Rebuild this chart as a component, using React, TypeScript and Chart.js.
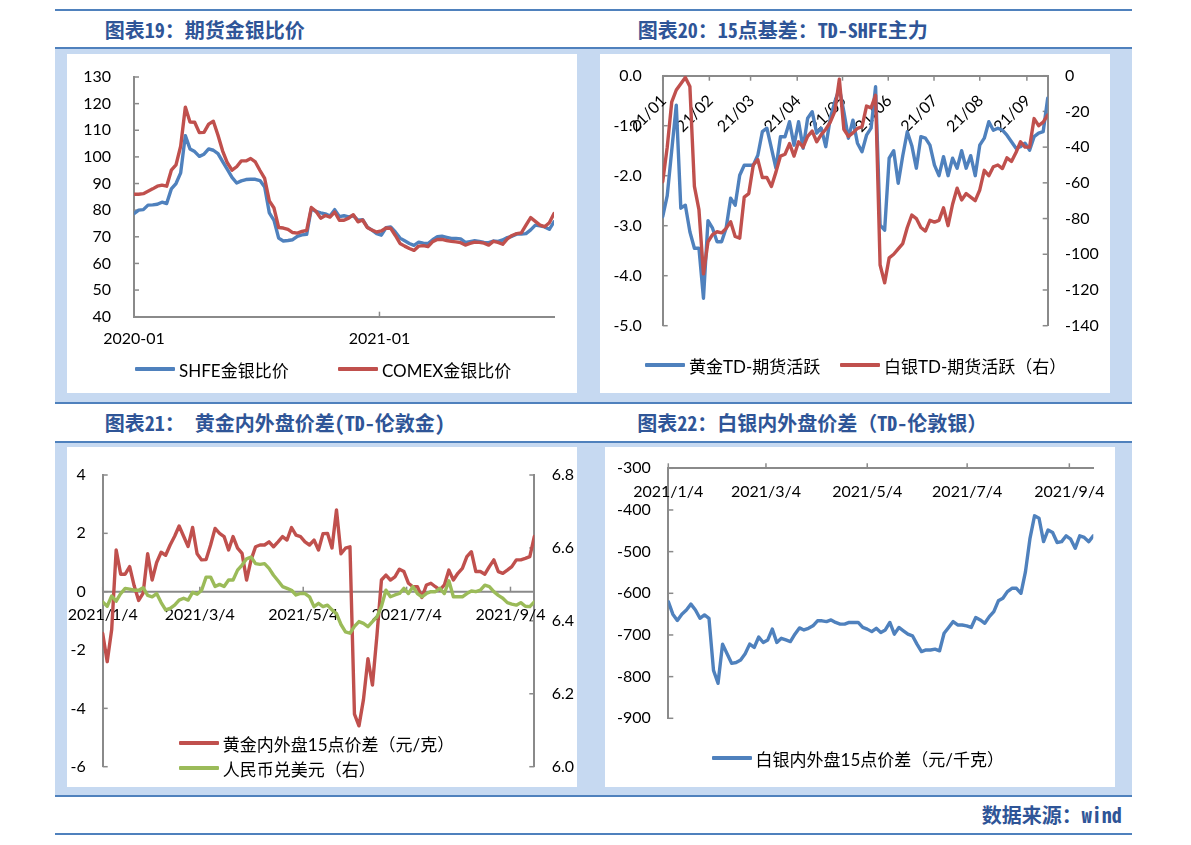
import React, { useEffect, useRef } from 'react';
import { Chart, registerables } from 'chart.js';

Chart.register(...registerables);

const BLUE = '#4f81bd';
const RED = '#c0504d';
const GREEN = '#9bbb59';
const AXIS = '#8a8a8a';
const BAND = '#c6d9f1';
const RULE = '#4f81bd';
const TITLE = '#2f5597';
const FAMILY = 'Lato, "Noto Sans CJK SC", sans-serif';
const TICK_FONT = { family: FAMILY, size: 16 };
const TICK_LEN = 5;

// ---------- 图表19：期货金银比价 (weekly) ----------
const ratioTickPos = [0, 52.6];
const ratioTickLabels = ['2020-01', '2021-01'];
const shfeRatio = [
  78.7, 80.0, 80.2, 81.9, 82.0, 82.2, 83.0, 82.5, 88.0, 90.0,
  94.0, 108.0, 103.0, 102.0, 100.2, 101.0, 103.0, 102.5, 101.2, 98.2,
  95.3, 92.3, 90.2, 91.0, 91.5, 91.6, 91.6, 91.1, 88.7, 79.0,
  76.2, 69.5, 68.4, 68.6, 68.9, 70.2, 70.7, 70.9, 80.6, 79.5,
  79.0, 78.6, 77.8, 80.2, 77.6, 77.9, 77.5, 77.9, 76.2, 76.4,
  73.6, 72.5, 71.2, 70.6, 73.4, 73.7, 71.8, 69.5, 68.5, 67.5,
  66.8, 68.0, 67.6, 67.5, 68.9, 70.0, 70.2, 69.8, 69.4, 69.4,
  69.2, 67.9, 68.2, 68.5, 68.3, 67.9, 67.8, 68.4, 68.3, 68.8,
  69.7, 70.2, 71.0, 71.0, 71.2, 72.6, 74.4, 74.1, 73.7, 72.8, 75.6,
];
const comexRatio = [
  86.0, 86.0, 86.2, 87.1, 88.0, 89.0, 89.4, 89.0, 95.0, 97.0,
  104.0, 118.7, 113.1, 113.0, 109.1, 109.2, 112.3, 113.4, 108.1, 102.2,
  97.8, 95.0, 96.3, 98.5, 98.5, 99.4, 98.1, 94.9, 91.9, 83.5,
  80.8, 73.5, 73.3, 72.8, 71.6, 71.4, 72.0, 72.4, 81.0, 79.6,
  77.0, 78.0, 77.4, 79.3, 76.2, 76.2, 77.0, 78.3, 75.6, 76.3,
  73.5, 72.5, 71.8, 72.2, 73.3, 73.2, 70.5, 67.5, 66.5, 65.6,
  64.9, 66.5, 66.7, 66.3, 68.2, 69.0, 69.0, 68.6, 68.3, 68.1,
  67.8, 66.9, 67.5, 68.0, 67.9, 67.6, 66.9, 68.3, 67.9, 67.2,
  69.2, 70.5, 71.2, 71.5, 74.4, 77.2, 75.8, 74.4, 73.8, 75.3, 78.7,
];

// ---------- 图表20：15点基差 (every 2 trading days) ----------
const basisTickPos = [0, 10.3, 19.4, 29.7, 39.7, 49.8, 59.9, 70.0, 80.4];
const basisTickLabels = ['21/01', '21/02', '21/03', '21/04', '21/05', '21/06', '21/07', '21/08', '21/09'];
const goldBasis = [
  -2.82, -2.40, -1.49, -0.59, -2.65, -2.59, -3.12, -3.45, -3.45, -4.45,
  -2.90, -3.05, -3.32, -3.32, -3.05, -2.45, -2.59, -1.99, -1.79, -1.79,
  -1.79, -1.59, -1.12, -1.05, -1.45, -1.85, -1.22, -1.22, -0.92, -1.39,
  -0.92, -1.45, -0.85, -0.72, -1.15, -1.05, -1.42, -0.85, -0.52, -0.25,
  -0.72, -1.25, -0.89, -1.35, -1.52, -1.19, -1.05, -0.22, -2.99, -3.09,
  -1.65, -1.50, -2.15, -1.60, -1.12, -1.40, -1.85, -1.22, -1.25, -1.39,
  -1.79, -2.00, -1.62, -2.00, -1.65, -1.85, -1.50, -1.85, -1.60, -2.00,
  -1.39, -1.25, -0.92, -1.09, -1.05, -1.09, -1.19, -1.32, -1.45, -1.42,
  -1.35, -1.49, -1.22, -1.15, -1.12, -0.45,
];
const silverBasis = [
  -59.4, -40, -14.6, -8, -4.5, -1, -6, -62, -75, -111,
  -93, -89, -87.4, -88, -85.5, -81.8, -90, -91, -68, -66,
  -50, -47, -57, -57, -62, -54, -45, -44, -38, -45,
  -37, -40, -34, -31, -37, -33, -30, -26, -20, -2,
  -30, -34, -32, -29.5, -28.6, -17, -18, -11, -106, -116,
  -102, -100, -97, -94, -85, -78, -80, -85, -87, -81,
  -82, -81, -74, -84, -72, -63, -69.6, -66, -68, -70,
  -64, -53, -56, -51, -50, -52, -46, -48, -43, -37,
  -40, -40, -24, -28, -26, -22,
];

// ---------- 图表21：黄金内外盘价差 ----------
const spreadTickPos = [0, 21.6, 44.6, 67.6, 90.7];
const spreadTickLabels = ['2021/1/4', '2021/3/4', '2021/5/4', '2021/7/4', '2021/9/4'];
const goldSpread = [
  -1.43, -2.4, -1.3, 1.43, 0.6, 0.6, 0.86, 0.2, -0.3, -0.05,
  1.3, 0.4, 1.0, 1.35, 1.25, 1.6, 1.9, 2.25, 1.9, 1.55,
  2.2, 1.3, 1.09, 1.1, 1.6, 2.17, 2.0, 1.89, 1.43, 1.89,
  1.49, 1.31, 0.4, 1.09, 1.54, 1.6, 1.6, 1.71, 1.54, 1.71,
  1.89, 1.77, 2.2, 1.94, 1.89, 1.71, 1.6, 1.77, 1.43, 1.99,
  2.0, 1.5, 2.8, 1.3, 1.49, 1.54, -4.2, -4.6, -3.7, -2.3,
  -3.2, -1.5, 0.4, 0.57, 0.4, 0.51, 0.77, 0.69, 0.29, 0.17,
  0.17, -0.2, 0.23, 0.29, 0.17, 0.06, 0.23, 0.74, 0.4, 0.63,
  0.8, 1.2, 1.37, 0.69, 0.69, 0.6, 0.86, 1.09, 0.69, 0.63,
  0.74, 0.86, 1.09, 1.09, 1.14, 1.2, 1.89,
];
const usdCny = [
  6.452, 6.44, 6.468, 6.454, 6.475, 6.489, 6.487, 6.484, 6.484, 6.491,
  6.47, 6.466, 6.475, 6.45, 6.43, 6.434, 6.443, 6.457, 6.462, 6.457,
  6.478, 6.473, 6.484, 6.52, 6.52, 6.494, 6.5, 6.494, 6.512, 6.512,
  6.539, 6.553, 6.57, 6.575, 6.557, 6.555, 6.557, 6.544, 6.525, 6.51,
  6.494, 6.489, 6.484, 6.471, 6.475, 6.475, 6.466, 6.439, 6.448, 6.439,
  6.443, 6.43, 6.42, 6.39, 6.37, 6.366, 6.385, 6.398, 6.393, 6.384,
  6.398, 6.411, 6.44, 6.484, 6.466, 6.471, 6.475, 6.489, 6.475, 6.494,
  6.475, 6.466, 6.475, 6.48, 6.48, 6.489, 6.475, 6.51, 6.466, 6.466,
  6.466, 6.475, 6.482, 6.48, 6.484, 6.498, 6.494, 6.48, 6.47, 6.462,
  6.45, 6.446, 6.443, 6.45, 6.44, 6.439, 6.452,
];

// ---------- 图表22：白银内外盘价差 ----------
const agTickPos = [0, 21.6, 44.0, 66.1, 88.7];
const agTickLabels = ['2021/1/4', '2021/3/4', '2021/5/4', '2021/7/4', '2021/9/4'];
const silverSpread = [
  -620, -650, -665, -650, -640, -626, -640, -660, -652, -660,
  -785, -816, -722, -745, -768, -766, -760, -745, -722, -730,
  -705, -718, -712, -686, -718, -708, -712, -716, -698, -683,
  -688, -684, -678, -666, -666, -668, -664, -670, -674, -674,
  -670, -670, -670, -682, -686, -692, -684, -694, -688, -670,
  -698, -682, -690, -698, -702, -722, -740, -736, -736, -734,
  -738, -696, -682, -668, -676, -676, -678, -682, -658, -664,
  -672, -656, -644, -618, -612, -596, -588, -588, -600, -548,
  -468, -414, -420, -476, -448, -454, -478, -476, -462, -470,
  -492, -462, -466, -476, -462,
];

const pts = (arr: number[]) => arr.map((y, i) => ({ x: i, y }));

const lineSet = (label: string, data: number[], color: string, order: number, yAxisID = 'y') => ({
  label,
  data: pts(data),
  borderColor: color,
  backgroundColor: color,
  borderWidth: 3.4,
  pointRadius: 0,
  tension: 0,
  fill: false,
  order,
  yAxisID,
  borderJoinStyle: 'round',
  borderCapStyle: 'round',
});

const zeroPad = (s: any) => {
  s.paddingTop = 0;
  s.paddingBottom = 0;
  s.paddingLeft = 0;
  s.paddingRight = 0;
};

const yScale = (o: any) => ({
  type: 'linear',
  position: o.position,
  min: o.min,
  max: o.max,
  grid: { display: false, drawTicks: false },
  border: { display: true, color: AXIS, width: 2 },
  ticks: {
    stepSize: o.step,
    padding: o.padding,
    color: '#000',
    font: TICK_FONT,
    autoSkip: false,
    callback: o.cb,
  },
  afterFit: (s: any) => { s.width = o.width; zeroPad(s); },
});

type Deco = {
  yMarks: { id: string; side: 'left' | 'right' }[];
  xAt: 'top' | 'bottom' | 'zero';
  zeroLine?: boolean;
  xPos: number[];
  xLabels: string[];
  xDir: number;
  drawLabels: boolean;
  labelDy?: number;
  labelDx?: number;
  rotate?: number;
};

function makeDeco(d: Deco) {
  return {
    id: 'axisDeco',
    beforeDatasetsDraw(chart: any) {
      const ctx = chart.ctx;
      const a = chart.chartArea;
      ctx.save();
      ctx.strokeStyle = AXIS;
      ctx.lineWidth = 1.5;
      for (const m of d.yMarks) {
        const s = chart.scales[m.id];
        for (const t of s.ticks) {
          const py = s.getPixelForValue(t.value);
          const x0 = m.side === 'left' ? a.left : a.right;
          const x1 = m.side === 'left' ? a.left + TICK_LEN : a.right - TICK_LEN;
          ctx.beginPath();
          ctx.moveTo(x0, py);
          ctx.lineTo(x1, py);
          ctx.stroke();
        }
      }
      const xs = chart.scales.x;
      const ay = d.xAt === 'top' ? a.top : d.xAt === 'bottom' ? a.bottom : chart.scales.y.getPixelForValue(0);
      if (d.zeroLine) {
        ctx.lineWidth = 2;
        ctx.beginPath();
        ctx.moveTo(a.left, ay);
        ctx.lineTo(a.right, ay);
        ctx.stroke();
        ctx.lineWidth = 1.5;
      }
      d.xPos.forEach((v, i) => {
        const px = xs.getPixelForValue(v);
        ctx.beginPath();
        ctx.moveTo(px, ay);
        ctx.lineTo(px, ay + d.xDir * TICK_LEN);
        ctx.stroke();
        if (d.drawLabels) {
          ctx.save();
          ctx.fillStyle = '#000';
          ctx.font = `16px ${FAMILY}`;
          ctx.translate(px + (d.labelDx || 0), ay + (d.labelDy || 0));
          ctx.textBaseline = 'middle';
          if (d.rotate) {
            ctx.rotate(d.rotate);
            ctx.textAlign = 'right';
          } else {
            ctx.textAlign = 'center';
          }
          ctx.fillText(d.xLabels[i], 0, 0);
          ctx.restore();
        }
      });
      ctx.restore();
    },
  };
}

const baseOptions = (padding: any) => ({
  responsive: false,
  maintainAspectRatio: false,
  animation: false,
  events: [],
  layout: { padding },
  plugins: { legend: { display: false }, tooltip: { enabled: false } },
});

function ratioConfig() {
  return {
    type: 'line',
    data: {
      datasets: [
        lineSet('SHFE金银比价', shfeRatio, BLUE, 1),
        lineSet('COMEX金银比价', comexRatio, RED, 0),
      ],
    },
    options: {
      ...baseOptions({ left: 0, right: 23, top: 23, bottom: 0 }),
      scales: {
        x: {
          type: 'linear',
          min: 0,
          max: shfeRatio.length - 1,
          position: 'bottom',
          afterBuildTicks: (s: any) => { s.ticks = ratioTickPos.map((v) => ({ value: v })); },
          ticks: {
            autoSkip: false,
            maxRotation: 0,
            minRotation: 0,
            padding: 13,
            color: '#000',
            font: TICK_FONT,
            callback: (_v: any, i: number) => ratioTickLabels[i],
          },
          grid: { display: false, drawTicks: false },
          border: { display: true, color: AXIS, width: 2 },
          afterFit: (s: any) => { s.height = 76.3; zeroPad(s); },
        },
        y: yScale({ position: 'left', min: 40, max: 130, step: 10, padding: 23, width: 67 }),
      },
    },
    plugins: [makeDeco({ yMarks: [{ id: 'y', side: 'left' }], xAt: 'bottom', xPos: ratioTickPos, xLabels: ratioTickLabels, xDir: -1, drawLabels: false })],
  };
}

function basisConfig() {
  return {
    type: 'line',
    data: {
      datasets: [
        lineSet('黄金TD-期货活跃', goldBasis, BLUE, 1, 'y'),
        lineSet('白银TD-期货活跃（右）', silverBasis, RED, 0, 'y2'),
      ],
    },
    options: {
      ...baseOptions({ left: 0, right: 0, top: 21.7, bottom: 67.3 }),
      scales: {
        x: {
          type: 'linear',
          min: 0,
          max: goldBasis.length - 1,
          position: 'top',
          ticks: { display: false },
          grid: { display: false, drawTicks: false },
          border: { display: true, color: AXIS, width: 2 },
          afterFit: (s: any) => { s.height = 0; zeroPad(s); },
        },
        y: yScale({ position: 'left', min: -5, max: 0, step: 1, padding: 21, width: 62.7, cb: (v: number) => v.toFixed(1) }),
        y2: yScale({ position: 'right', min: -140, max: 0, step: 20, padding: 17.3, width: 62.3 }),
      },
    },
    plugins: [makeDeco({
      yMarks: [{ id: 'y', side: 'left' }, { id: 'y2', side: 'right' }],
      xAt: 'top', xPos: basisTickPos, xLabels: basisTickLabels, xDir: 1,
      drawLabels: true, labelDx: 1, labelDy: 22.3, rotate: -Math.PI / 4,
    })],
  };
}

function spreadConfig() {
  return {
    type: 'line',
    data: {
      datasets: [
        lineSet('黄金内外盘15点价差（元/克）', goldSpread, RED, 1, 'y'),
        lineSet('人民币兑美元（右）', usdCny, GREEN, 0, 'y2'),
      ],
    },
    options: {
      ...baseOptions({ left: 0, right: 0, top: 28, bottom: 20.3 }),
      scales: {
        x: { type: 'linear', min: 0, max: goldSpread.length - 1, display: false, afterFit: zeroPad },
        y: yScale({ position: 'left', min: -6, max: 4, step: 2, padding: 16.9, width: 35.7 }),
        y2: yScale({ position: 'right', min: 6.0, max: 6.8, step: 0.2, padding: 17.4, width: 42.7, cb: (v: number) => v.toFixed(1) }),
      },
    },
    plugins: [makeDeco({
      yMarks: [{ id: 'y', side: 'left' }, { id: 'y2', side: 'right' }],
      xAt: 'zero', zeroLine: true, xPos: spreadTickPos, xLabels: spreadTickLabels, xDir: -1,
      drawLabels: true, labelDy: 23.3,
    })],
  };
}

function agConfig() {
  return {
    type: 'line',
    data: {
      datasets: [lineSet('白银内外盘15点价差（元/千克）', silverSpread, BLUE, 0, 'y')],
    },
    options: {
      ...baseOptions({ left: 0, right: 21.7, top: 21.3, bottom: 68.7 }),
      scales: {
        x: {
          type: 'linear',
          min: 0,
          max: silverSpread.length - 1,
          position: 'top',
          ticks: { display: false },
          grid: { display: false, drawTicks: false },
          border: { display: true, color: AXIS, width: 2 },
          afterFit: (s: any) => { s.height = 0; zeroPad(s); },
        },
        y: yScale({ position: 'left', min: -900, max: -300, step: 100, padding: 17.5, width: 63.3 }),
      },
    },
    plugins: [makeDeco({
      yMarks: [{ id: 'y', side: 'left' }],
      xAt: 'top', xPos: agTickPos, xLabels: agTickLabels, xDir: -1,
      drawLabels: true, labelDy: 23.4,
    })],
  };
}

function ChartBox({ left, top, width, height, make }: { left: number; top: number; width: number; height: number; make: () => any }) {
  const ref = useRef<HTMLCanvasElement>(null);
  useEffect(() => {
    const chart = new Chart(ref.current as HTMLCanvasElement, make());
    return () => chart.destroy();
  }, []);
  return (
    <div style={{ position: 'absolute', left, top, width, height, background: '#fff' }}>
      <canvas ref={ref} width={width} height={height} style={{ display: 'block', width, height }} />
    </div>
  );
}

function LegendItem({ x, y, color, text }: { x: number; y: number; color: string; text: string }) {
  return (
    <div style={{ position: 'absolute', left: x, top: y - 12, height: 24, display: 'flex', alignItems: 'center', whiteSpace: 'nowrap', fontFamily: FAMILY, fontSize: 17, color: '#000' }}>
      <div style={{ width: 40, height: 4, background: color, marginRight: 4, borderRadius: 1 }} />
      <span>{text}</span>
    </div>
  );
}

function Rule({ top }: { top: number }) {
  return <div style={{ position: 'absolute', left: 55, top, width: 1077, height: 2, background: RULE }} />;
}

// ASCII runs use half-width forms, like the original heading font.
function titleRuns(text: string) {
  return text.split(/([\x20-\x7e]+)/).filter((s) => s.length > 0).map((s, i) =>
    /^[\x20-\x7e]+$/.test(s)
      ? <span key={i} style={{ fontFeatureSettings: '"hwid"' }}>{s}</span>
      : <span key={i}>{s}</span>
  );
}

function Title({ x, y, text, right }: { x: number; y: number; text: string; right?: boolean }) {
  const style: any = {
    position: 'absolute', top: y - 14, height: 28, lineHeight: '28px', whiteSpace: 'pre',
    fontFamily: '"Noto Sans CJK SC", sans-serif', fontWeight: 700, fontSize: 20, color: TITLE,
  };
  if (right) style.right = 1191 - x; else style.left = x;
  return <div style={style}>{titleRuns(text)}</div>;
}

export default function App() {
  return (
    <div style={{ position: 'absolute', left: 0, top: 0, width: 1191, height: 845, background: '#fff', overflow: 'hidden' }}>
      <Rule top={9} />
      <Title x={104.8} y={30} text="图表19：期货金银比价" />
      <Title x={637.7} y={30} text="图表20：15点基差：TD-SHFE主力" />
      <Rule top={47} />
      <div style={{ position: 'absolute', left: 55, top: 49, width: 1077, height: 353, background: BAND }} />
      <ChartBox left={67} top={54} width={510} height={339} make={ratioConfig} />
      <ChartBox left={600} top={54} width={510} height={339} make={basisConfig} />
      <LegendItem x={135} y={369.3} color={BLUE} text="SHFE金银比价" />
      <LegendItem x={338} y={369.3} color={RED} text="COMEX金银比价" />
      <LegendItem x={645} y={365} color={BLUE} text="黄金TD-期货活跃" />
      <LegendItem x={840} y={365} color={RED} text="白银TD-期货活跃（右）" />
      <Rule top={402} />
      <Title x={104.8} y={423} text="图表21： 黄金内外盘价差(TD-伦敦金)" />
      <Title x={637.3} y={423} text="图表22：白银内外盘价差（TD-伦敦银）" />
      <Rule top={441} />
      <div style={{ position: 'absolute', left: 55, top: 443, width: 1077, height: 352, background: BAND }} />
      <ChartBox left={67} top={447} width={510} height={340} make={spreadConfig} />
      <ChartBox left={605} top={447} width={510} height={340} make={agConfig} />
      <LegendItem x={178.8} y={743.3} color={RED} text="黄金内外盘15点价差（元/克）" />
      <LegendItem x={178.8} y={768.3} color={GREEN} text="人民币兑美元（右）" />
      <LegendItem x={711.6} y={758.3} color={BLUE} text="白银内外盘15点价差（元/千克）" />
      <Rule top={795} />
      <Title x={1121.7} y={815} text="数据来源：wind" right />
      <Rule top={833} />
    </div>
  );
}
